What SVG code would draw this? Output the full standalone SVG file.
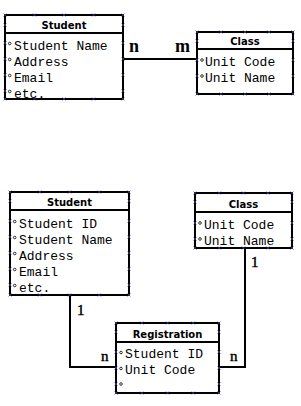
<svg xmlns="http://www.w3.org/2000/svg" xmlns:xlink="http://www.w3.org/1999/xlink" width="301" height="406" viewBox="0 0 301 406">
<style>
.box{fill:#fff;stroke:#000;stroke-width:2}
.div{stroke:#000;stroke-width:2}
.hd{font-family:"DejaVu Sans",sans-serif;font-weight:bold;font-size:10px;text-anchor:middle;fill:#000}
.at{font-family:"Liberation Mono","Courier New",monospace;font-size:13px;fill:#000}
.bl{fill:none;stroke:#000;stroke-width:0.8}
.con{fill:none;stroke:#000;stroke-width:2}
.card{font-family:"Liberation Serif","Times New Roman",serif;font-weight:bold;font-size:18px;fill:#000}
.card2{font-family:"Liberation Serif","Times New Roman",serif;font-size:15px;fill:#000;stroke:#000;stroke-width:0.45}
.mk{stroke:#3a3a9a;stroke-width:0.7;fill:none}
</style>
<defs>
<path id="x" class="mk" d="M-1.5,-1.5L1.5,1.5M-1.5,1.5L1.5,-1.5"/>
<circle id="b" class="bl" r="1.3"/>
</defs>
<g id="connectors">
<line class="con" x1="123" y1="59" x2="197" y2="59"/>
<text class="card" x="129" y="52">n</text>
<text class="card" x="175" y="52">m</text>
<path class="con" d="M70,295V367H116"/>
<path class="con" d="M219,367H245V248"/>
<text class="card2" x="77" y="314.5">1</text>
<text class="card2" x="101" y="361">n</text>
<text class="card2" x="230" y="361">n</text>
<text class="card2" x="251" y="267">1</text>
</g>
<g id="student1">
<rect class="box" x="5" y="15" width="118" height="84"/>
<line class="div" x1="5" y1="33" x2="123" y2="33"/>
<text class="hd" x="64" y="28.5">Student</text>
<use xlink:href="#b" x="9.7" y="43.5"/><text class="at" x="14" y="49.5">Student Name</text>
<use xlink:href="#b" x="9.7" y="59.5"/><text class="at" x="14" y="65.5">Address</text>
<use xlink:href="#b" x="9.7" y="75.5"/><text class="at" x="14" y="81.5">Email</text>
<use xlink:href="#b" x="9.7" y="91.5"/><text class="at" x="14" y="97.5">etc.</text>
<use xlink:href="#x" x="5" y="15"/><use xlink:href="#x" x="34.5" y="15"/><use xlink:href="#x" x="64" y="15"/><use xlink:href="#x" x="93.5" y="15"/><use xlink:href="#x" x="123" y="15"/>
<use xlink:href="#x" x="5" y="99"/><use xlink:href="#x" x="34.5" y="99"/><use xlink:href="#x" x="64" y="99"/><use xlink:href="#x" x="93.5" y="99"/><use xlink:href="#x" x="123" y="99"/>
<use xlink:href="#x" x="5" y="25"/><use xlink:href="#x" x="5" y="43"/><use xlink:href="#x" x="5" y="59"/><use xlink:href="#x" x="5" y="75"/><use xlink:href="#x" x="5" y="91"/>
<use xlink:href="#x" x="123" y="25"/><use xlink:href="#x" x="123" y="43"/><use xlink:href="#x" x="123" y="59"/><use xlink:href="#x" x="123" y="75"/><use xlink:href="#x" x="123" y="91"/>
</g>
<g id="class1">
<rect class="box" x="197" y="32" width="96" height="62"/>
<line class="div" x1="197" y1="49" x2="293" y2="49"/>
<text class="hd" x="245" y="44.5">Class</text>
<use xlink:href="#b" x="202" y="60"/><text class="at" x="205" y="66">Unit Code</text>
<use xlink:href="#b" x="202" y="76"/><text class="at" x="205" y="82">Unit Name</text>
<use xlink:href="#x" x="197" y="32"/><use xlink:href="#x" x="221" y="32"/><use xlink:href="#x" x="245" y="32"/><use xlink:href="#x" x="269" y="32"/><use xlink:href="#x" x="293" y="32"/>
<use xlink:href="#x" x="197" y="94"/><use xlink:href="#x" x="221" y="94"/><use xlink:href="#x" x="245" y="94"/><use xlink:href="#x" x="269" y="94"/><use xlink:href="#x" x="293" y="94"/>
<use xlink:href="#x" x="197" y="41"/><use xlink:href="#x" x="197" y="60"/><use xlink:href="#x" x="197" y="76"/>
<use xlink:href="#x" x="293" y="41"/><use xlink:href="#x" x="293" y="60"/><use xlink:href="#x" x="293" y="76"/>
</g>
<g id="student2">
<rect class="box" x="10" y="192" width="119" height="103"/>
<line class="div" x1="10" y1="210" x2="129" y2="210"/>
<text class="hd" x="69.5" y="206">Student</text>
<use xlink:href="#b" x="14.7" y="221.5"/><text class="at" x="19" y="227.5">Student ID</text>
<use xlink:href="#b" x="14.7" y="237.5"/><text class="at" x="19" y="243.5">Student Name</text>
<use xlink:href="#b" x="14.7" y="253.5"/><text class="at" x="19" y="259.5">Address</text>
<use xlink:href="#b" x="14.7" y="269.5"/><text class="at" x="19" y="275.5">Email</text>
<use xlink:href="#b" x="14.7" y="285.5"/><text class="at" x="19" y="291.5">etc.</text>
<use xlink:href="#x" x="10" y="192"/><use xlink:href="#x" x="39.75" y="192"/><use xlink:href="#x" x="69.5" y="192"/><use xlink:href="#x" x="99.25" y="192"/><use xlink:href="#x" x="129" y="192"/>
<use xlink:href="#x" x="10" y="295"/><use xlink:href="#x" x="39.75" y="295"/><use xlink:href="#x" x="69.5" y="295"/><use xlink:href="#x" x="99.25" y="295"/><use xlink:href="#x" x="129" y="295"/>
<use xlink:href="#x" x="10" y="201"/><use xlink:href="#x" x="10" y="221"/><use xlink:href="#x" x="10" y="237"/><use xlink:href="#x" x="10" y="253"/><use xlink:href="#x" x="10" y="269"/><use xlink:href="#x" x="10" y="285"/>
<use xlink:href="#x" x="129" y="201"/><use xlink:href="#x" x="129" y="221"/><use xlink:href="#x" x="129" y="237"/><use xlink:href="#x" x="129" y="253"/><use xlink:href="#x" x="129" y="269"/><use xlink:href="#x" x="129" y="285"/>
</g>
<g id="class2">
<rect class="box" x="195" y="193" width="97" height="55"/>
<line class="div" x1="195" y1="212" x2="292" y2="212"/>
<text class="hd" x="243.5" y="208">Class</text>
<use xlink:href="#b" x="200" y="223"/><text class="at" x="204" y="229">Unit Code</text>
<use xlink:href="#b" x="200" y="239"/><text class="at" x="204" y="245">Unit Name</text>
<use xlink:href="#x" x="195" y="193"/><use xlink:href="#x" x="219.25" y="193"/><use xlink:href="#x" x="243.5" y="193"/><use xlink:href="#x" x="267.75" y="193"/><use xlink:href="#x" x="292" y="193"/>
<use xlink:href="#x" x="195" y="248"/><use xlink:href="#x" x="219.25" y="248"/><use xlink:href="#x" x="243.5" y="248"/><use xlink:href="#x" x="267.75" y="248"/><use xlink:href="#x" x="292" y="248"/>
<use xlink:href="#x" x="195" y="202"/><use xlink:href="#x" x="195" y="223"/><use xlink:href="#x" x="195" y="239"/>
<use xlink:href="#x" x="292" y="202"/><use xlink:href="#x" x="292" y="223"/><use xlink:href="#x" x="292" y="239"/>
</g>
<g id="registration">
<rect class="box" x="116" y="323" width="103" height="70"/>
<line class="div" x1="116" y1="342" x2="219" y2="342"/>
<text class="hd" x="167.5" y="338">Registration</text>
<use xlink:href="#b" x="121" y="352.5"/><text class="at" x="125" y="358">Student ID</text>
<use xlink:href="#b" x="121" y="368.5"/><text class="at" x="125" y="374">Unit Code</text>
<use xlink:href="#b" x="121" y="384"/>
<use xlink:href="#x" x="116" y="323"/><use xlink:href="#x" x="141.75" y="323"/><use xlink:href="#x" x="167.5" y="323"/><use xlink:href="#x" x="193.25" y="323"/><use xlink:href="#x" x="219" y="323"/>
<use xlink:href="#x" x="116" y="393"/><use xlink:href="#x" x="141.75" y="393"/><use xlink:href="#x" x="167.5" y="393"/><use xlink:href="#x" x="193.25" y="393"/><use xlink:href="#x" x="219" y="393"/>
<use xlink:href="#x" x="116" y="332"/><use xlink:href="#x" x="116" y="352"/><use xlink:href="#x" x="116" y="368"/><use xlink:href="#x" x="116" y="384"/>
<use xlink:href="#x" x="219" y="332"/><use xlink:href="#x" x="219" y="352"/><use xlink:href="#x" x="219" y="368"/><use xlink:href="#x" x="219" y="384"/>
</g>
</svg>
